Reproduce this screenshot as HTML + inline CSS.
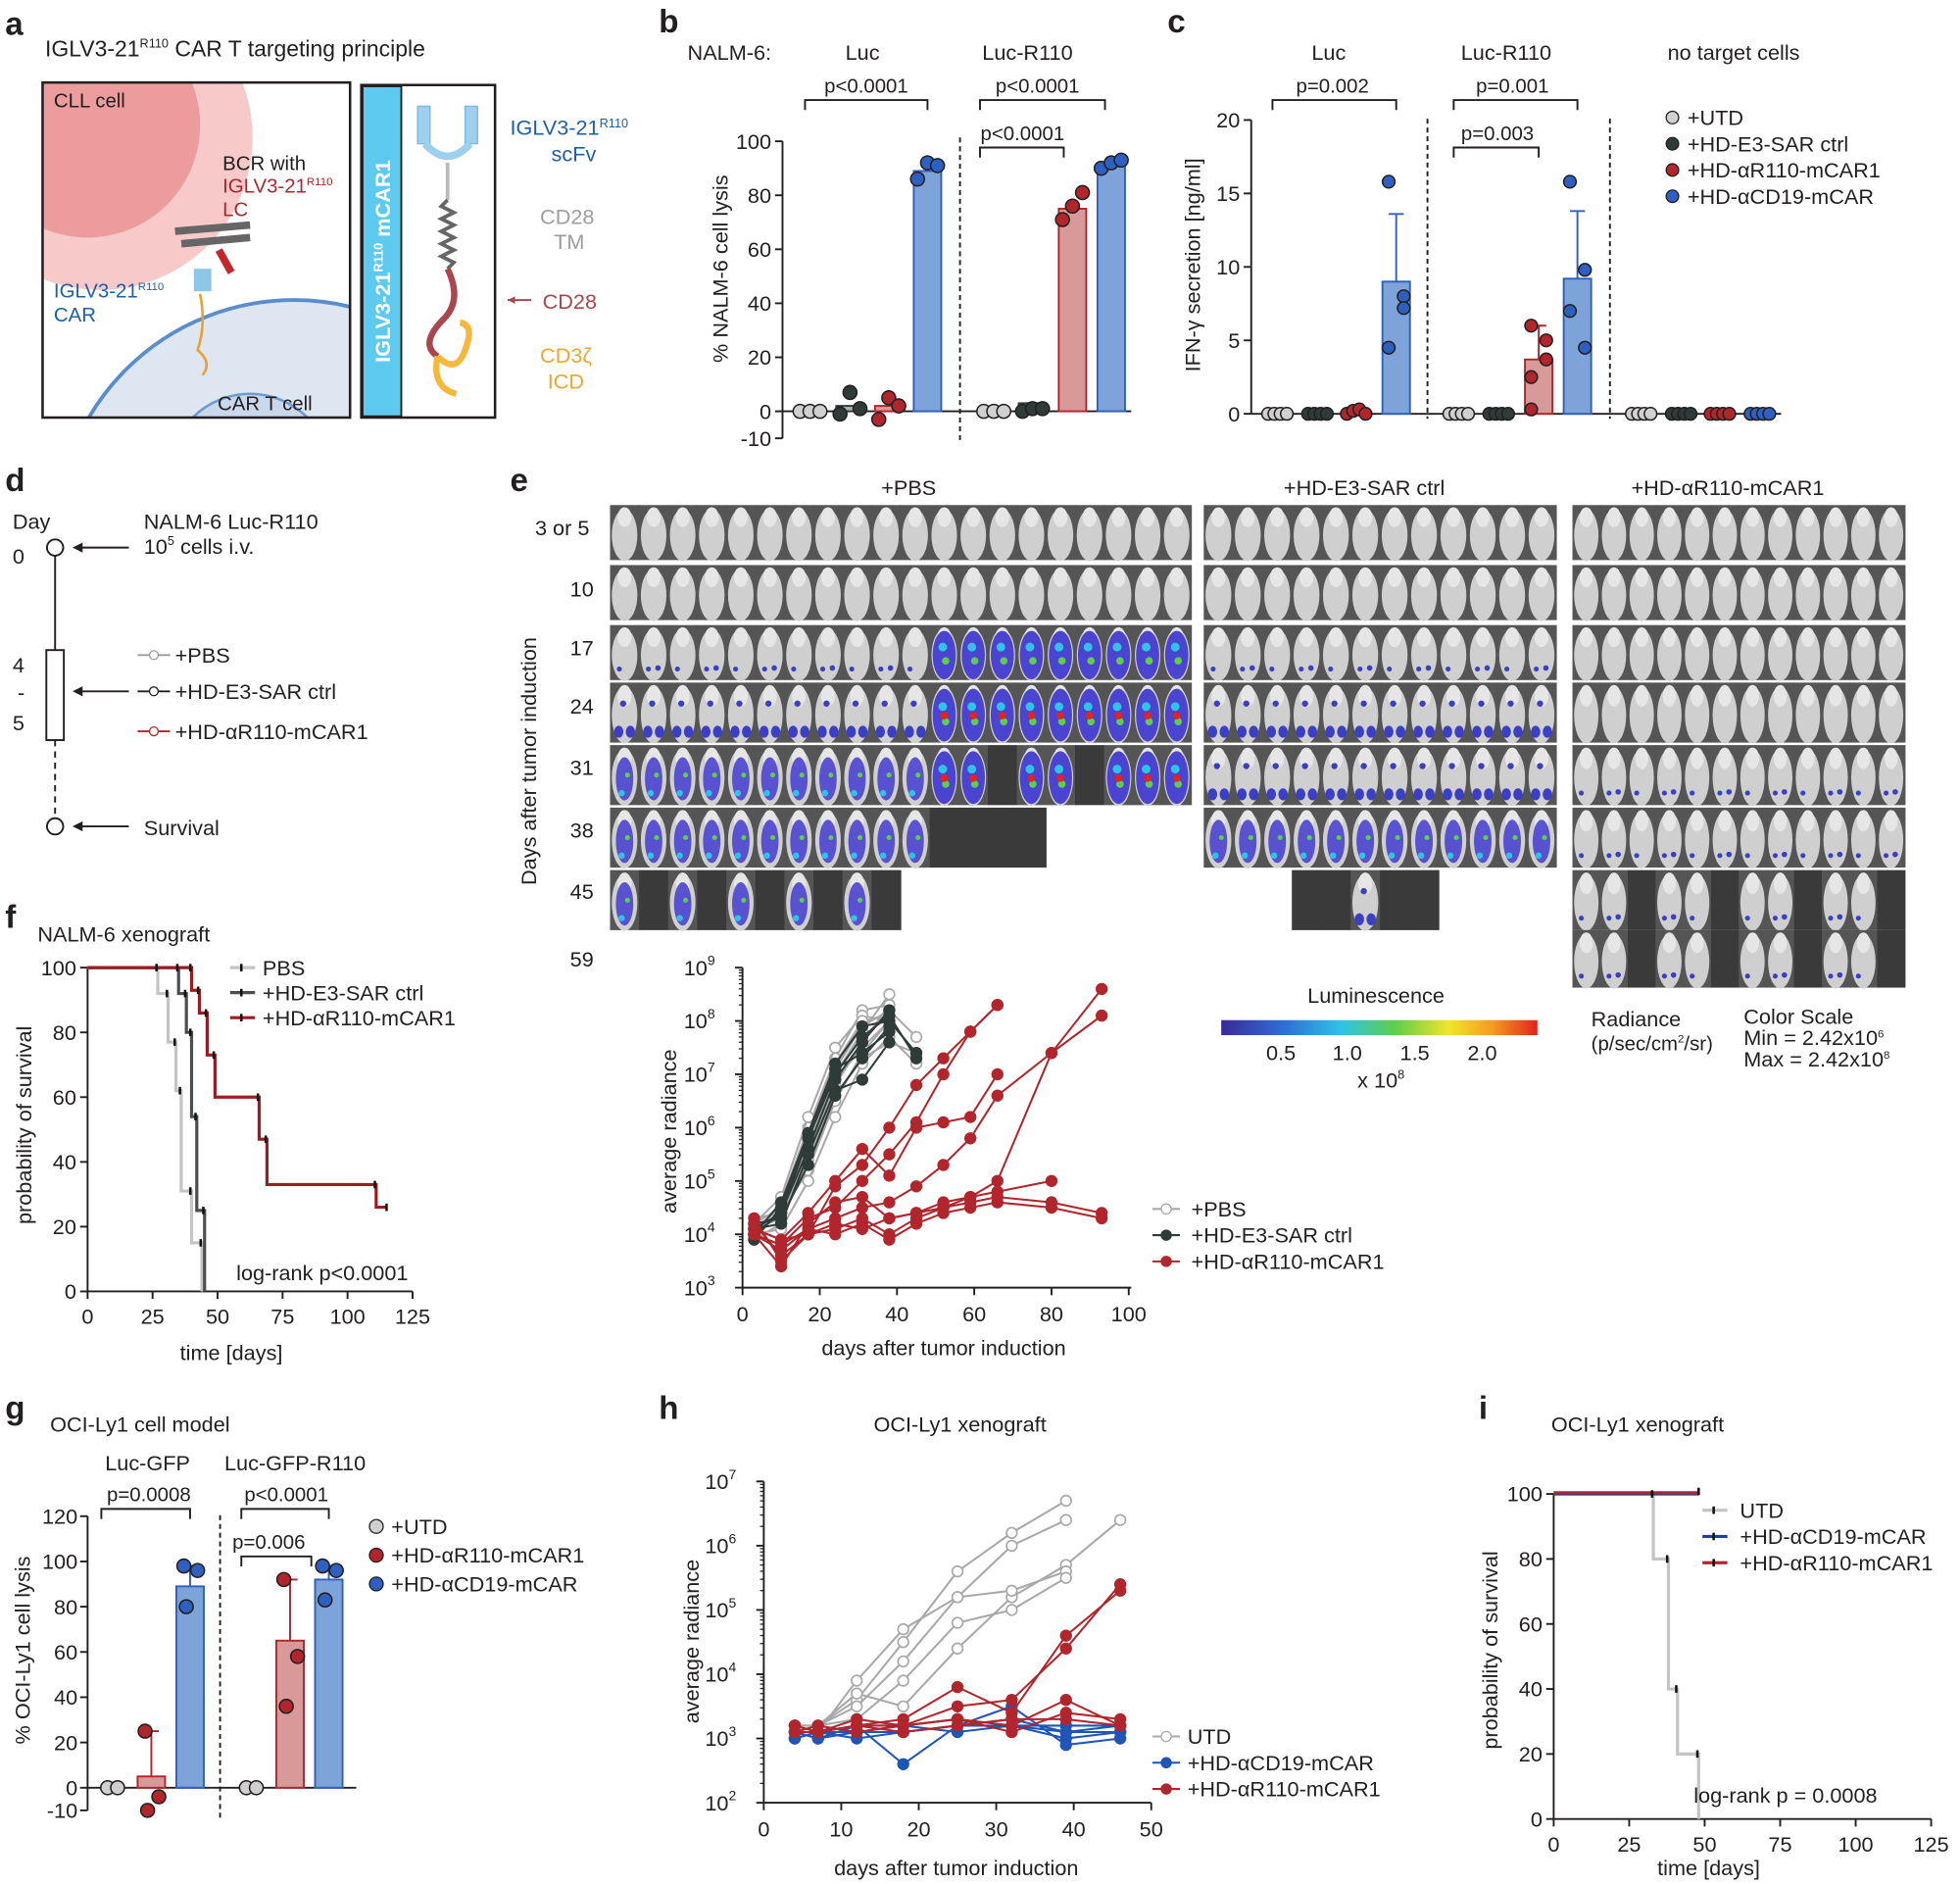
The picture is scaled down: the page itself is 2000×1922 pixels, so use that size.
<!DOCTYPE html>
<html><head><meta charset="utf-8"><style>
html,body{margin:0;padding:0;background:#fff}
svg{display:block}
text{font-family:"Liberation Sans",Arial,sans-serif;fill:#231f20}
</style></head><body>
<svg id="fig" width="2000" height="1922" viewBox="0 0 1568 1507" xmlns="http://www.w3.org/2000/svg">
<defs>
<linearGradient id="lum" x1="0" x2="1" y1="0" y2="0">
<stop offset="0" stop-color="#3a2a9a"/><stop offset="0.2" stop-color="#2f6fd6"/><stop offset="0.38" stop-color="#2ec4e8"/><stop offset="0.55" stop-color="#5fce4a"/><stop offset="0.72" stop-color="#f0e62a"/><stop offset="0.86" stop-color="#f39a1f"/><stop offset="1" stop-color="#e3231c"/></linearGradient>
</defs>
<g font-weight="bold" font-size="26">
<text x="4" y="28">a</text>
<text x="527" y="26">b</text>
<text x="934" y="26">c</text>
<text x="4" y="393">d</text>
<text x="408" y="393">e</text>
<text x="4" y="742">f</text>
<text x="4" y="1135">g</text>
<text x="527" y="1135">h</text>
<text x="1183" y="1135">i</text>
</g>
<g>
<text x="36" y="45" font-size="18">IGLV3-21<tspan font-size="10" dy="-7">R110</tspan><tspan dy="7"> CAR T targeting principle</tspan></text>
<clipPath id="ca"><rect x="34" y="66" width="246" height="268"/></clipPath>
<g clip-path="url(#ca)">
<rect x="34" y="66" width="246" height="268" fill="#fff"/>
<circle cx="80" cy="110" r="122" fill="#f7c9c9"/>
<circle cx="70" cy="100" r="90" fill="#ec9c9c"/>
<circle cx="235" cy="430" r="190" fill="#dde6f1" stroke="#5b8ccb" stroke-width="3"/>
<circle cx="200" cy="380" r="65" fill="#c9d8ea" stroke="#6f9ad0" stroke-width="2"/>
</g>
<rect x="34" y="66" width="246" height="268" fill="none" stroke="#231f20" stroke-width="2"/>
<text x="43" y="86" font-size="16">CLL cell</text>
<text x="178" y="136" font-size="16">BCR with</text>
<text x="178" y="154" font-size="16" style="fill:#b1262c">IGLV3-21<tspan font-size="9" dy="-6">R110</tspan></text>
<text x="178" y="173" font-size="16" style="fill:#b1262c">LC</text>
<text x="43" y="238" font-size="16" style="fill:#1f5fa8">IGLV3-21<tspan font-size="9" dy="-6">R110</tspan></text>
<text x="43" y="257" font-size="16" style="fill:#1f5fa8">CAR</text>
<text x="174" y="328" font-size="16">CAR T cell</text>
<path d="M140 185 L200 180 M145 195 L200 190" stroke="#666" stroke-width="6"/>
<path d="M175 200 L185 218" stroke="#c1272d" stroke-width="6"/>
<rect x="155" y="215" width="14" height="18" fill="#8cc6e8"/>
<path d="M160 235 Q165 260 158 280 Q170 290 162 300" stroke="#e8a030" stroke-width="2" fill="none"/>
<rect x="289" y="68" width="107" height="266" fill="#fff" stroke="#231f20" stroke-width="2"/>
<rect x="290" y="69" width="31" height="264" fill="#5fcaf0" stroke="#231f20" stroke-width="1.5"/>
<text transform="translate(312 290) rotate(-90)" font-size="17" font-weight="bold" style="fill:#fff">IGLV3-21<tspan font-size="10" dy="-6">R110</tspan><tspan dy="6"> mCAR1</tspan></text>
<path d="M334 85 L344 85 L344 115 L334 115 Z M372 85 L382 85 L382 115 L372 115 Z" fill="#9cd0ee" stroke="#7fb5d8"/>
<path d="M340 115 Q358 135 376 115" stroke="#9cd0ee" stroke-width="6" fill="none"/>
<path d="M358 130 L358 160" stroke="#bbb" stroke-width="3"/>
<path d="M358 160 l-5 5 l10 5 l-10 5 l10 5 l-10 5 l10 5 l-10 5 l10 5 l-10 5 l10 5 l-5 5" stroke="#666" stroke-width="3" fill="none"/>
<path d="M358 215 Q370 240 355 255 Q335 275 350 285" stroke="#a8484d" stroke-width="5" fill="none"/>
<path d="M350 285 Q365 300 372 280 Q380 260 368 258 M350 285 Q345 310 365 315" stroke="#f5b83a" stroke-width="5" fill="none"/>
<text x="408" y="108" font-size="17" style="fill:#1f5fa8">IGLV3-21<tspan font-size="10" dy="-6">R110</tspan></text>
<text x="441" y="129" font-size="17" style="fill:#1f5fa8">scFv</text>
<text x="432" y="179" font-size="17" style="fill:#9d9d9d">CD28</text>
<text x="443" y="199" font-size="17" style="fill:#9d9d9d">TM</text>
<path d="M406 240 L425 240" stroke="#a8484d" stroke-width="1.5"/><path d="M406 240 l6 -3 l0 6z" fill="#a8484d"/>
<text x="434" y="247" font-size="17" style="fill:#a8484d">CD28</text>
<text x="432" y="290" font-size="17" style="fill:#f0a530">CD3ζ</text>
<text x="438" y="311" font-size="17" style="fill:#f0a530">ICD</text>
</g>
<g font-size="17">
<text x="10" y="423">Day</text>
<text x="10" y="451">0</text>
<text x="10" y="538">4</text><text x="14" y="560">-</text><text x="10" y="584">5</text>
<line x1="44" y1="445" x2="44" y2="520" stroke="#231f20" stroke-width="1.5"/>
<rect x="37" y="520" width="14" height="72" fill="#fff" stroke="#231f20" stroke-width="1.5"/>
<line x1="44" y1="592" x2="44" y2="655" stroke="#231f20" stroke-width="1.5" stroke-dasharray="5 4"/>
<circle cx="44" cy="438" r="6.5" fill="#fff" stroke="#231f20" stroke-width="1.5"/>
<circle cx="44" cy="661" r="6.5" fill="#fff" stroke="#231f20" stroke-width="1.5"/>
<path d="M60 438 L103 438 M60 553 L103 553 M60 661 L103 661" stroke="#231f20" stroke-width="1.5"/>
<path d="M58 438 l8 -4 l0 8z M58 553 l8 -4 l0 8z M58 661 l8 -4 l0 8z" fill="#231f20"/>
<text x="115" y="423">NALM-6 Luc-R110</text>
<text x="115" y="443">10<tspan font-size="10" dy="-7">5</tspan><tspan dy="7"> cells i.v.</tspan></text>
<path d="M110 524 L136 524" stroke="#999" stroke-width="1.5"/><circle cx="123" cy="524" r="3.5" fill="#fff" stroke="#999"/>
<text x="140" y="530">+PBS</text>
<path d="M110 553 L136 553" stroke="#231f20" stroke-width="1.5"/><circle cx="123" cy="553" r="3.5" fill="#fff" stroke="#231f20"/>
<text x="140" y="559">+HD-E3-SAR ctrl</text>
<path d="M110 585 L136 585" stroke="#b1262c" stroke-width="1.5"/><circle cx="123" cy="585" r="3.5" fill="#fff" stroke="#b1262c"/>
<text x="140" y="591">+HD-αR110-mCAR1</text>
<text x="115" y="668">Survival</text>
</g>
<g font-size="17">
<text x="705" y="396">+PBS</text>
<text x="1027" y="396">+HD-E3-SAR ctrl</text>
<text x="1305" y="396">+HD-αR110-mCAR1</text>
<text x="428" y="428">3 or 5</text><text x="456" y="477">10</text><text x="456" y="524">17</text><text x="456" y="571">24</text><text x="456" y="620">31</text><text x="456" y="670">38</text><text x="456" y="719">45</text><text x="456" y="773">59</text>
<text transform="translate(429 708) rotate(-90)">Days after tumor induction</text>
<text x="1046" y="802">Luminescence</text>
<rect x="977" y="816" width="253" height="12" fill="url(#lum)"/>
<text x="1013" y="848">0.5</text><text x="1066" y="848">1.0</text><text x="1120" y="848">1.5</text><text x="1174" y="848">2.0</text>
<text x="1086" y="870">x 10<tspan font-size="10" dy="-7">8</tspan></text>
<text x="1273" y="821">Radiance</text>
<text x="1273" y="840" font-size="16">(p/sec/cm<tspan font-size="9" dy="-6">2</tspan><tspan dy="6">/sr)</tspan></text>
<text x="1395" y="819">Color Scale</text>
<text x="1395" y="836">Min = 2.42x10<tspan font-size="9" dy="-6">6</tspan></text>
<text x="1395" y="853">Max = 2.42x10<tspan font-size="9" dy="-6">8</tspan></text>
</g>
<g id="imgs"></g>
<g id="charts"></g>
</svg>
<script>
// ---------- DATA ----------
const bGroups = ["Luc","Luc-R110"];
const bMeans = [[0,2,2,89],[0,3,75,92]];
const bPoints = [[[0,0,0],[-1,7,1],[-3,5,2],[86,92,91]],[[0,0,0],[0,1,1],[71,76,81],[90,92,93]]];
const bTicks = [-10,0,20,40,60,80,100];
const cGroups = ["Luc","Luc-R110","no target cells"];
const cMeans = [[0,0,0.2,9.0],[0,0,3.7,9.2],[0,0,0,0]];
const cErr = [[0,0,0.1,4.6],[0,0,2.3,4.6],[0,0,0,0]];
const cPoints = [[[0,0,0,0],[0,0,0,0],[0,0.2,0.3,0],[15.8,8,4.5,7.2]],[[0,0,0,0],[0,0,0,0],[6,5,2.5,3.7,0.3],[15.8,9.8,7,4.5]],[[0,0,0,0],[0,0,0,0],[0,0,0,0],[0,0,0,0]]];
const cTicks = [0,5,10,15,20];
const gMeans = [[0,5,89],[0,65,92]];
const gPoints = [[[0,0],[25,-4,-10],[98,96,80]],[[0,0],[92,58,36],[98,96,83]]];
const gTicks = [-10,0,20,40,60,80,100,120];
const fPBS_t = [0,27,31,34,36,40,44];
const fPBS_s = [100,92,77,62,31,15,0];
const fE3_t = [0,35,38,40,42,45];
const fE3_s = [100,92,80,54,25,0];
const fR_t = [0,40,43,46,49,66,69,111];
const fR_s = [100,93,86,73,60,47,33,26];
const fR_end = 115;
const fTicksX = [0,25,50,75,100,125];
const fTicksY = [0,20,40,60,80,100];
const ePBS = [[4.2,4.5,5.8,7.0,7.8,8.5],[4.1,4.3,5.5,6.8,7.6,8.3],[4.0,4.6,6.0,7.3,8.2,8.3],[4.3,4.4,5.2,6.5,7.4,8.0],[3.9,4.2,5.6,7.1,7.9,8.2,7.7],[4.2,4.7,6.2,7.5,8.1,8.0],[4.0,4.1,5.0,6.2,7.2,7.7,7.2],[4.1,4.5,5.9,6.9,7.5,8.0],[4.2,4.3,5.4,6.6,7.3,7.6,7.4],[4.0,4.4,5.7,7.2,8.0,8.1]];
const eE3 = [[4.1,4.4,5.6,6.9,7.6,8.2],[4.0,4.6,5.9,7.2,7.9,8.0,7.4],[4.2,4.3,5.3,6.6,7.3,7.9],[3.9,4.5,5.8,7.0,7.7,8.1,7.3],[4.1,4.2,5.5,6.7,6.9,7.6],[4.0,4.4,5.8,7.1,7.4,7.8]];
const eDays = [3,10,17,24,31,38,45,52,59,66,80,93];
const eR110 = [[4.3,3.5,4.0,4.9,5.3,6.0,6.8,7.3,7.8,8.3],[4.0,3.8,4.3,4.5,5.0,5.5,6.1,7.0,7.8,8.3],[4.0,3.7,4.1,4.3,4.5,4.6,4.9,5.3,5.8,6.6,7.4,8.6],[4.1,3.9,4.0,4.2,4.1,4.3,4.4,4.6,4.7,5.0,7.4,8.1],[4.2,3.6,4.0,4.1,4.3,4.0,4.3,4.5,4.6,4.7,4.6,4.4],[4.0,3.8,4.1,4.0,4.2,3.9,4.2,4.4,4.5,4.6,4.5,4.3],[4.1,3.9,4.4,5.0,5.6,5.1,6.0,6.1,6.2,7.0],[4.0,3.4,4.2,4.6,4.7,4.3,4.4,4.5,4.7,4.8,5.0]];
const hDays = [4,7,12,18,25,32,39,46];
const hUTD = [[3.2,3.2,3.6,4.5,5.6,6.2,6.7],[3.2,3.1,3.9,4.7,5.2,6.0,6.4],[3.1,3.2,3.7,3.5,4.4,5.2,5.7,6.4],[3.1,3.2,3.5,4.2,5.2,5.3,5.6],[3.2,3.2,3.3,3.9,4.8,5.0,5.5]];
const hCD19 = [[3.1,3.1,3.2,2.6,3.2,3.3,3.1,3.1],[3.0,3.1,3.1,3.1,3.2,3.2,3.0,3.1],[3.1,3.0,3.2,3.2,3.1,3.2,3.2,3.2],[3.0,3.1,3.0,3.1,3.2,3.5,2.9,3.0],[3.1,3.0,3.1,3.2,3.3,3.2,3.1,3.2]];
const hR110 = [[3.2,3.1,3.2,3.3,3.8,3.4,4.6,5.3],[3.1,3.2,3.1,3.2,3.5,3.6,4.4,5.4],[3.2,3.1,3.3,3.2,3.3,3.2,3.6,3.2],[3.1,3.1,3.2,3.1,3.2,3.3,3.3,3.2],[3.2,3.1,3.2,3.2,3.3,3.1,3.4,3.3]];
const iUTD_t = [0,33,38,41,48];
const iUTD_s = [100,80,40,20,0];
const iCAR_end = 48;
const iTicksX = [0,25,50,75,100,125];

// ---------- helpers ----------
const NS="http://www.w3.org/2000/svg";
const root=document.getElementById('charts');
function mk(tag,at,par){const e=document.createElementNS(NS,tag);for(const k in at)e.setAttribute(k,at[k]);(par||root).appendChild(e);return e;}
function txt(s,x,y,sz,anchor,par){const e=mk('text',{x:x,y:y,'font-size':sz||16,'text-anchor':anchor||'start'},par);e.textContent=s;return e;}
const COL={utd:'#d0d0d0',e3:'#2f3b38',r:'#b1262c',cd:'#2f5fbf'};
const BAR={utd:'#e5e5e5',e3:'#aab2b0',r:'#d89999',cd:'#7ea3d8'};

// ---------- panel b ----------
(function(){
 const g=mk('g',{});
 
 
 const y=v=>329-v*2.16, x0=626;
 mk('line',{x1:x0,y1:y(100),x2:x0,y2:y(-10),stroke:'#231f20','stroke-width':1.5},g);
 mk('line',{x1:x0,y1:y(0),x2:905,y2:y(0),stroke:'#231f20','stroke-width':1.5},g);
 bTicks.forEach(t=>{mk('line',{x1:x0-6,y1:y(t),x2:x0,y2:y(t),stroke:'#231f20','stroke-width':1.5},g);
  const tt=txt(String(t),x0-9,y(t)+6,17,'end',g);
  });
 const ax=txt('% NALM-6 cell lysis',0,0,17,'middle',g);ax.setAttribute('transform','translate(582 215) rotate(-90)');
 
 const cols=['utd','e3','r','cd'];
 const xs=[[648,680,711,742],[795,826,858,889]];
 bGroups.forEach((gn,gi)=>{
  bMeans[gi].forEach((m,ci)=>{
   const cx=xs[gi][ci],k=cols[ci];
   const r=mk('rect',{x:cx-11,y:Math.min(y(m),y(0)),width:22,height:Math.abs(y(0)-y(m)),fill:BAR[k],stroke:k==='utd'?'#888':COL[k],'stroke-width':1.5},g);
   
   
   bPoints[gi][ci].forEach((p,pi)=>{const c=mk('circle',{cx:cx+(pi-1)*8,cy:y(p),r:5.5,fill:COL[k],stroke:'#231f20','stroke-width':1.2},g);
    });
  });
 });
 mk('line',{x1:768,y1:110,x2:768,y2:352,stroke:'#231f20','stroke-dasharray':'4 3','stroke-width':1.5},g);
 txt('NALM-6:',550,48,17,'start',g);txt('Luc',690,48,17,'middle',g);txt('Luc-R110',822,48,17,'middle',g);
 [[644,742,80,'p<0.0001',693],[784,884,80,'p<0.0001',830],[784,851,118,'p<0.0001',818]].forEach(a=>{
  mk('path',{d:`M${a[0]} ${a[2]+8} V${a[2]} H${a[1]} V${a[2]+8}`,fill:'none',stroke:'#231f20','stroke-width':1.5},g);
  txt(a[3],a[4],a[2]-6,16,'middle',g);});
})();

// ---------- panel c ----------
(function(){
 const g=mk('g',{});
 
 
 const y=v=>331-v*11.75,x0=1001;
 mk('line',{x1:x0,y1:y(20),x2:x0,y2:y(0),stroke:'#231f20','stroke-width':1.5},g);
 mk('line',{x1:x0,y1:y(0),x2:1425,y2:y(0),stroke:'#231f20','stroke-width':1.5},g);
 cTicks.forEach(t=>{mk('line',{x1:x0-6,y1:y(t),x2:x0,y2:y(t),stroke:'#231f20','stroke-width':1.5},g);
  const tt=txt(String(t),x0-9,y(t)+6,17,'end',g);});
 const ax=txt('IFN-γ secretion [ng/ml]',0,0,17,'middle',g);ax.setAttribute('transform','translate(960 212) rotate(-90)');
 
 const cols=['utd','e3','r','cd'];
 const xs=[[1022,1054,1085,1117],[1167,1199,1231,1262],[1313,1345,1376,1408]];
 cGroups.forEach((gn,gi)=>{
  cMeans[gi].forEach((m,ci)=>{
   const cx=xs[gi][ci],k=cols[ci];
   if(m>0.5){
    const r=mk('rect',{x:cx-11,y:y(m),width:22,height:y(0)-y(m),fill:BAR[k],stroke:COL[k],'stroke-width':1.5},g);
    
    
    mk('path',{d:`M${cx} ${y(m)} V${y(m+cErr[gi][ci])} M${cx-6} ${y(m+cErr[gi][ci])} H${cx+6}`,stroke:COL[k],'stroke-width':1.5},g);
   }
   cPoints[gi][ci].forEach((p,pi)=>{const off=m>0.5?((pi%2)?6:-6):(pi-1.5)*5;
    const c=mk('circle',{cx:cx+off,cy:y(p),r:5,fill:COL[k],stroke:'#231f20','stroke-width':1.2},g);
    });
  });
 });
 [1142,1288].forEach(xx=>mk('line',{x1:xx,y1:95,x2:xx,y2:335,stroke:'#231f20','stroke-dasharray':'4 3','stroke-width':1.5},g));
 txt('Luc',1063,48,17,'middle',g);txt('Luc-R110',1205,48,17,'middle',g);txt('no target cells',1387,48,17,'middle',g);
 [[1018,1117,80,'p=0.002',1066],[1163,1262,80,'p=0.001',1210],[1163,1231,118,'p=0.003',1198]].forEach(a=>{
  mk('path',{d:`M${a[0]} ${a[2]+8} V${a[2]} H${a[1]} V${a[2]+8}`,fill:'none',stroke:'#231f20','stroke-width':1.5},g);
  txt(a[3],a[4],a[2]-6,16,'middle',g);});
 [['utd','+UTD'],['e3','+HD-E3-SAR ctrl'],['r','+HD-αR110-mCAR1'],['cd','+HD-αCD19-mCAR']].forEach((l,i)=>{
  mk('circle',{cx:1338,cy:94+i*21,r:5,fill:COL[l[0]],stroke:'#231f20'},g);
  const t=txt(l[1],1350,100+i*21,17,'start',g);});
})();

// ---------- panel g ----------
(function(){
 const g=mk('g',{});
 
 
 const y=v=>1430-v*1.81,x0=70;
 mk('line',{x1:x0,y1:y(120),x2:x0,y2:y(-10),stroke:'#231f20','stroke-width':1.5},g);
 mk('line',{x1:x0,y1:y(0),x2:285,y2:y(0),stroke:'#231f20','stroke-width':1.5},g);
 gTicks.forEach(t=>{mk('line',{x1:x0-6,y1:y(t),x2:x0,y2:y(t),stroke:'#231f20','stroke-width':1.5},g);
  const tt=txt(String(t),x0-8,y(t)+6,17,'end',g);});
 const ax=txt('% OCI-Ly1 cell lysis',0,0,17,'middle',g);ax.setAttribute('transform','translate(24 1320) rotate(-90)');
 
 const cols=['utd','r','cd'];const xs=[[90,121,152],[201,232,263]];
 gMeans.forEach((ms,gi)=>ms.forEach((m,ci)=>{
  const cx=xs[gi][ci],k=cols[ci];
  if(m>0.5){const r=mk('rect',{x:cx-11,y:y(m),width:22,height:y(0)-y(m),fill:BAR[k],stroke:COL[k],'stroke-width':1.5},g);
   
   
   const top=Math.max(...gPoints[gi][ci]);
   mk('path',{d:`M${cx} ${y(m)} V${y(top)} M${cx-6} ${y(top)} H${cx+6}`,stroke:COL[k],'stroke-width':1.5},g);}
  gPoints[gi][ci].forEach((p,pi)=>{const n=gPoints[gi][ci].length;const off=n===2?(pi-0.5)*8:[-5,6,-3][pi];
   const c=mk('circle',{cx:cx+off,cy:y(p),r:5.5,fill:COL[k],stroke:'#231f20','stroke-width':1.2},g);
   });
 }));
 mk('line',{x1:176,y1:1212,x2:176,y2:1455,stroke:'#231f20','stroke-dasharray':'4 3','stroke-width':1.5},g);
 txt('OCI-Ly1 cell model',40,1145,17,'start',g);txt('Luc-GFP',118,1176,17,'middle',g);txt('Luc-GFP-R110',236,1176,17,'middle',g);
 [[81,152,1207,'p=0.0008',119],[193,263,1207,'p<0.0001',229],[193,249,1245,'p=0.006',215]].forEach(a=>{
  mk('path',{d:`M${a[0]} ${a[2]+8} V${a[2]} H${a[1]} V${a[2]+8}`,fill:'none',stroke:'#231f20','stroke-width':1.5},g);
  txt(a[3],a[4],a[2]-6,16,'middle',g);});
 [['utd','+UTD'],['r','+HD-αR110-mCAR1'],['cd','+HD-αCD19-mCAR']].forEach((l,i)=>{
  mk('circle',{cx:301,cy:1221+i*23,r:5.5,fill:COL[l[0]],stroke:'#231f20'},g);
  const t=txt(l[1],313,1227+i*23,17,'start',g);});
})();

function step(ts,ss,end,xf,yf){let d=`M${xf(ts[0])} ${yf(ss[0])}`;for(let i=1;i<ts.length;i++){d+=` H${xf(ts[i])} V${yf(ss[i])}`;}if(end!=null)d+=` H${xf(end)}`;return d;}

// ---------- panel f ----------
(function(){
 const g=mk('g',{});
 
 
 const x=d=>70+d*2.08,y=s=>1033-s*2.59;
 mk('path',{d:`M${x(0)} ${y(100)} V${y(0)} H${x(125)}`,fill:'none',stroke:'#231f20','stroke-width':1.5},g);
 fTicksY.forEach(t=>{mk('line',{x1:x(0)-6,y1:y(t),x2:x(0),y2:y(t),stroke:'#231f20','stroke-width':1.5},g);
  const tt=txt(String(t),x(0)-9,y(t)+6,17,'end',g);});
 fTicksX.forEach(t=>{mk('line',{x1:x(t),y1:y(0),x2:x(t),y2:y(0)+6,stroke:'#231f20','stroke-width':1.5},g);
  const tt=txt(String(t),x(t),y(0)+26,17,'middle',g);});
 const ax=txt('probability of survival',0,0,17,'middle',g);ax.setAttribute('transform','translate(25 900) rotate(-90)');
 txt('time [days]',185,1088,17,'middle',g);
 txt('NALM-6 xenograft',30,753,17,'start',g);
 const p1=mk('path',{d:step(fPBS_t,fPBS_s,null,x,y),fill:'none',stroke:'#c4c4c4','stroke-width':2.5},g);
 
 const p2=mk('path',{d:step(fE3_t,fE3_s,null,x,y),fill:'none',stroke:'#4a4f4d','stroke-width':2.5},g);
 
 const p3=mk('path',{d:step(fR_t,fR_s,fR_end,x,y),fill:'none',stroke:'#9c1c22','stroke-width':2.5},g);
 
 [[fPBS_t,fPBS_s],[fE3_t,fE3_s],[fR_t,fR_s]].forEach(a=>{for(let i=1;i<a[0].length;i++)mk('line',{x1:x(a[0][i])-1,y1:y(a[1][i-1])-3,x2:x(a[0][i])-1,y2:y(a[1][i-1])+3,stroke:'#111','stroke-width':2},g);});
 mk('line',{x1:x(fR_end),y1:y(26)-3,x2:x(fR_end),y2:y(26)+3,stroke:'#111','stroke-width':2},g);
 [['#c4c4c4','PBS'],['#4a4f4d','+HD-E3-SAR ctrl'],['#9c1c22','+HD-αR110-mCAR1']].forEach((l,i)=>{
  mk('line',{x1:184,y1:774+i*20,x2:204,y2:774+i*20,stroke:l[0],'stroke-width':2.5},g);
  mk('line',{x1:193,y1:771+i*20,x2:193,y2:777+i*20,stroke:'#111','stroke-width':2},g);
  const t=txt(l[1],210,780+i*20,17,'start',g);});
 txt('log-rank p<0.0001',189,1024,17,'start',g);
})();

// ---------- panel i ----------
(function(){
 const g=mk('g',{});
 
 
 const x=d=>1243+d*2.416,y=s=>1455-s*2.6;
 mk('path',{d:`M${x(0)} ${y(100)} V${y(0)} H${x(125)}`,fill:'none',stroke:'#231f20','stroke-width':1.5},g);
 [0,20,40,60,80,100].forEach(t=>{mk('line',{x1:x(0)-6,y1:y(t),x2:x(0),y2:y(t),stroke:'#231f20','stroke-width':1.5},g);
  const tt=txt(String(t),x(0)-9,y(t)+6,17,'end',g);});
 iTicksX.forEach(t=>{mk('line',{x1:x(t),y1:y(0),x2:x(t),y2:y(0)+6,stroke:'#231f20','stroke-width':1.5},g);
  const tt=txt(String(t),x(t),y(0)+26,17,'middle',g);});
 const ax=txt('probability of survival',0,0,17,'middle',g);ax.setAttribute('transform','translate(1198 1320) rotate(-90)');
 txt('time [days]',1367,1500,17,'middle',g);
 txt('OCI-Ly1 xenograft',1241,1145,17,'start',g);
 const p1=mk('path',{d:step(iUTD_t,iUTD_s,null,x,y),fill:'none',stroke:'#c4c4c4','stroke-width':2.5},g);
 
 const p2=mk('path',{d:`M${x(0)} ${y(100)} H${x(iCAR_end)}`,fill:'none',stroke:'#1f3f99','stroke-width':2.5},g);
 
 const p3=mk('path',{d:`M${x(0)} ${y(100)-1} H${x(iCAR_end)}`,fill:'none',stroke:'#b1262c','stroke-width':2.5},g);
 
 for(let i=1;i<iUTD_t.length;i++)mk('line',{x1:x(iUTD_t[i])-1,y1:y(iUTD_s[i-1])-3,x2:x(iUTD_t[i])-1,y2:y(iUTD_s[i-1])+3,stroke:'#111','stroke-width':2},g);
 mk('line',{x1:x(iCAR_end),y1:y(100)-5,x2:x(iCAR_end),y2:y(100)+1,stroke:'#111','stroke-width':2},g);
 [['#c4c4c4','UTD'],['#1f3f99','+HD-αCD19-mCAR'],['#b1262c','+HD-αR110-mCAR1']].forEach((l,i)=>{
  mk('line',{x1:1362,y1:1208+i*21,x2:1382,y2:1208+i*21,stroke:l[0],'stroke-width':2.5},g);
  mk('line',{x1:1371,y1:1205+i*21,x2:1371,y2:1211+i*21,stroke:'#111','stroke-width':2},g);
  const t=txt(l[1],1392,1214+i*21,17,'start',g);});
 txt('log-rank p = 0.0008',1355,1442,17,'start',g);
})();

function logAxis(g,x0,x1,y0,y1,dmin,dmax,xt,xf){
 const yf=v=>y0-(v-dmin)*(y0-y1)/(dmax-dmin);
 mk('path',{d:`M${x0} ${y1} V${y0} H${x1}`,fill:'none',stroke:'#231f20','stroke-width':1.5},g);
 for(let d=dmin;d<=dmax;d++){mk('line',{x1:x0-6,y1:yf(d),x2:x0,y2:yf(d),stroke:'#231f20','stroke-width':1.5},g);
  for(let m=2;m<10&&d<dmax;m++){const yy=yf(d+Math.log10(m));mk('line',{x1:x0-3,y1:yy,x2:x0,y2:yy,stroke:'#231f20','stroke-width':1},g);}
  const t=mk('text',{x:x0-22,y:yf(d)+6,'font-size':17,'text-anchor':'end'},g);
  
  t.textContent='10';const ts=document.createElementNS(NS,'tspan');ts.setAttribute('font-size','11');ts.setAttribute('dy','-8');ts.textContent=String(d);t.appendChild(ts);}
 xt.forEach(t=>{mk('line',{x1:xf(t),y1:y0,x2:xf(t),y2:y0+6,stroke:'#231f20','stroke-width':1.5},g);
  const tt=txt(String(t),xf(t),y0+27,17,'middle',g);});
 return yf;
}
function series(g,days,vals,col,fill,name){
 const xf=g._xf,yf=g._yf;
 const pts=vals.map((v,i)=>xf(days[i])+','+yf(v)).join(' ');
 const pl=mk('polyline',{points:pts,fill:'none',stroke:col,'stroke-width':1.6},g);
 
 
 vals.forEach((v,i)=>{const c=mk('circle',{cx:xf(days[i]),cy:yf(v),r:4.2,fill:fill,stroke:col,'stroke-width':1.3},g);
  });
}

// ---------- panel e line chart ----------
(function(){
 const g=mk('g',{});
 
 
 const xf=d=>594+d*3.09;
 g._xf=xf;g._yf=logAxis(g,594,905,1030,774,3,9,[0,20,40,60,80,100],xf);
 const ax=txt('average radiance',0,0,17,'middle',g);ax.setAttribute('transform','translate(541 905) rotate(-90)');
 txt('days after tumor induction',755,1084,17,'middle',g);
 ePBS.forEach(v=>series(g,eDays,v,'#a8a8a8','#fff','line-pbs'));
 eE3.forEach(v=>series(g,eDays,v,'#2f3b38','#2f3b38','line-e3'));
 eR110.forEach(v=>series(g,eDays,v,'#b1262c','#b1262c','line-r110'));
 [['#a8a8a8','#fff','+PBS'],['#2f3b38','#2f3b38','+HD-E3-SAR ctrl'],['#b1262c','#b1262c','+HD-αR110-mCAR1']].forEach((l,i)=>{
  mk('line',{x1:922,y1:967+i*21,x2:944,y2:967+i*21,stroke:l[0],'stroke-width':1.6},g);
  mk('circle',{cx:933,cy:967+i*21,r:4,fill:l[1],stroke:l[0]},g);
  const t=txt(l[2],953,973+i*21,17,'start',g);});
})();

// ---------- panel h ----------
(function(){
 const g=mk('g',{});
 
 
 const xf=d=>611+d*6.2;
 g._xf=xf;g._yf=logAxis(g,611,921,1442,1185,2,7,[0,10,20,30,40,50],xf);
 const ax=txt('average radiance',0,0,17,'middle',g);ax.setAttribute('transform','translate(559 1313) rotate(-90)');
 txt('days after tumor induction',765,1500,17,'middle',g);
 txt('OCI-Ly1 xenograft',768,1145,17,'middle',g);
 hUTD.forEach(v=>series(g,hDays,v,'#a8a8a8','#fff','line-utd'));
 hCD19.forEach(v=>series(g,hDays,v,'#1f55b5','#1f55b5','line-cd19'));
 hR110.forEach(v=>series(g,hDays,v,'#b1262c','#b1262c','line-r110'));
 [['#a8a8a8','#fff','UTD'],['#1f55b5','#1f55b5','+HD-αCD19-mCAR'],['#b1262c','#b1262c','+HD-αR110-mCAR1']].forEach((l,i)=>{
  mk('line',{x1:922,y1:1389+i*21,x2:944,y2:1389+i*21,stroke:l[0],'stroke-width':1.6},g);
  mk('circle',{cx:933,cy:1389+i*21,r:4,fill:l[1],stroke:l[0]},g);
  const t=txt(l[2],950,1395+i*21,17,'start',g);});
})();

// ---------- bioluminescence image grids ----------
(function(){
 const im=document.getElementById('imgs');
 const grids=[
  {x:488,w:465,cols:20,rows:[[404,44],[452,44],[500,44],[546,48],[596,48],[646,48],[696,48]],counts:[20,20,20,20,20,15,10],lev:[0,0,1,2,3,3,3],hot:11},
  {x:963,w:282,cols:12,rows:[[404,44],[452,44],[500,44],[546,48],[596,48],[646,48],[696,48]],counts:[12,12,12,12,12,12,0],lev:[0,0,1,2,2,3,2],hot:99},
  {x:1258,w:266,cols:12,rows:[[404,44],[452,44],[500,44],[546,48],[596,48],[646,48],[696,48],[744,46]],counts:[12,12,12,12,12,12,12,12],lev:[0,0,0,0,1,1,1,1],hot:99}
 ];
 grids.forEach((gd,gi)=>{
  const cw=gd.w/gd.cols;
  gd.rows.forEach((r,ri)=>{
   let n=gd.counts[ri],start=0;
   if(gi===1&&ri===6){start=3;n=8;}
   for(let c=start;c<n;c++){
    const x=gd.x+c*cw;
    let dark=false;
    if(gi===0&&ri===4&&(c===13||c===16))dark=true;
    if(gi===0&&ri===5&&c>10)dark=true;
    if(gi===0&&ri===6&&(c%2===1))dark=true;
    if(gi===1&&ri===6&&c!==5)dark=true;
    if(gi===2&&ri>=6&&(c%3===2))dark=true;
    mk('rect',{x:x,y:r[0],width:cw+0.5,height:r[1],fill:dark?'#3a3a3a':'#555'},im);
    if(dark)continue;
    const hotTier=(c>=gd.hot)&&ri>=2;
    const lev=hotTier?4:gd.lev[ri];
    const cx=x+cw/2,cy=r[0]+r[1]/2;
    mk('ellipse',{cx:cx,cy:cy+2,rx:cw*0.44,ry:r[1]*0.47,fill:'#cfcfcf'},im);
    mk('ellipse',{cx:cx,cy:r[0]+r[1]*0.22,rx:cw*0.24,ry:r[1]*0.18,fill:'#e6e6e6'},im);
    if(lev===1){mk('circle',{cx:x+cw*0.32,cy:r[0]+r[1]*0.8,r:2,fill:'#3b3fc6'},im);
      if(c%2)mk('circle',{cx:x+cw*0.65,cy:r[0]+r[1]*0.78,r:2.2,fill:'#3b3fc6'},im);}
    if(lev===2){mk('ellipse',{cx:x+cw*0.3,cy:r[0]+r[1]*0.82,rx:cw*0.16,ry:r[1]*0.1,fill:'#3b3fc6'},im);
      mk('ellipse',{cx:x+cw*0.7,cy:r[0]+r[1]*0.82,rx:cw*0.16,ry:r[1]*0.1,fill:'#3b3fc6'},im);
      mk('circle',{cx:x+cw*0.45,cy:r[0]+r[1]*0.35,r:2.5,fill:'#3b3fc6'},im);}
    if(lev===3){mk('ellipse',{cx:cx,cy:cy+3,rx:cw*0.3,ry:r[1]*0.36,fill:'#4a44d0',opacity:0.9},im);
      mk('circle',{cx:x+cw*0.4,cy:r[0]+r[1]*0.8,r:2.5,fill:'#2ec4e8'},im);
      mk('circle',{cx:x+cw*0.6,cy:r[0]+r[1]*0.5,r:2,fill:'#5fce4a'},im);}
    if(lev===4){mk('ellipse',{cx:cx,cy:cy+2,rx:cw*0.4,ry:r[1]*0.44,fill:'#4a44d0'},im);
      mk('circle',{cx:x+cw*0.45,cy:r[0]+r[1]*0.4,r:3.5,fill:'#2ec4e8'},im);
      mk('circle',{cx:x+cw*0.55,cy:r[0]+r[1]*0.65,r:3,fill:'#5fce4a'},im);
      if(ri>=3)mk('circle',{cx:x+cw*0.5,cy:r[0]+r[1]*0.55,r:3,fill:'#e3231c'},im);}
   }
  });
 });
})();
</script>
</body></html>
